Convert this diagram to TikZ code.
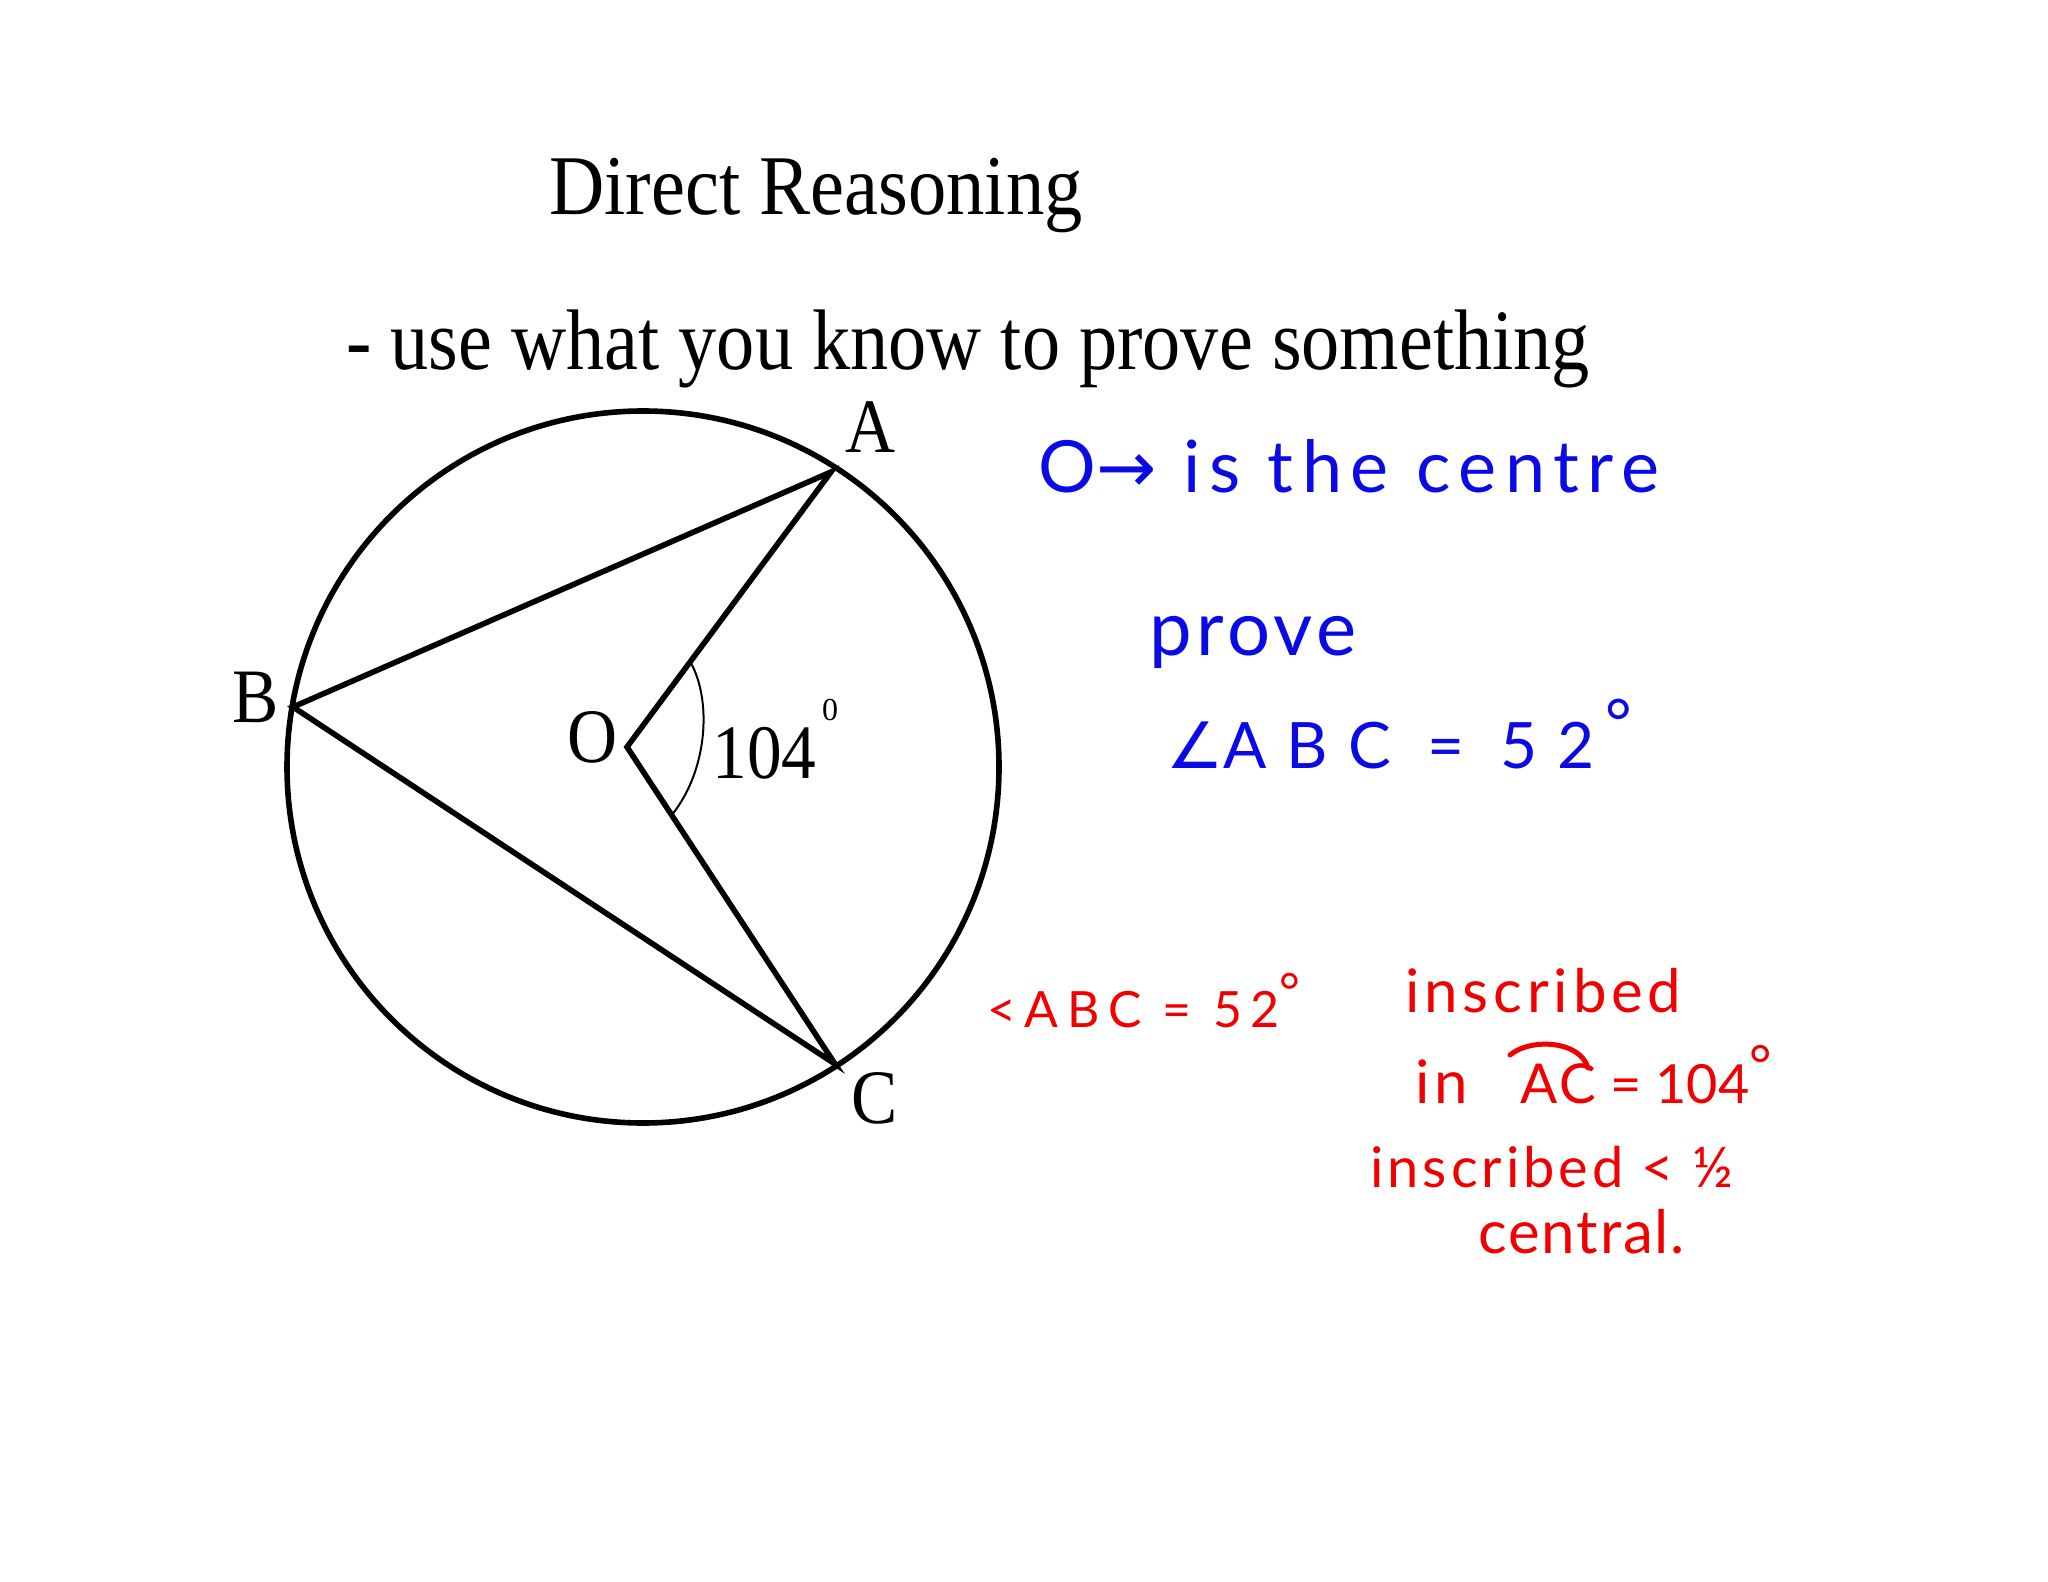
\documentclass[tikz,border=0pt]{standalone}
\usepackage{fontspec}
\setmainfont{Liberation Serif}
\newfontfamily\handfont{Lato}
\newfontfamily\symfont{DejaVu Sans}
\usetikzlibrary{calc}
\newcommand\handtext[2]{\handfont\fontsize{#1}{#1}\selectfont\addfontfeature{LetterSpace=#2}}
\newcommand\serifsize[1]{\fontsize{#1}{#1}\selectfont}
\newcommand\updeg{\raisebox{0.35em}{°}}
\begin{document}
\begin{tikzpicture}[x=0.5pt,y=-0.5pt,
  geo/.style={line width=2.8pt,black},
  lbl/.style={anchor=base,inner sep=0pt,text=black},
  bluepen/.style={anchor=base west,inner sep=0pt,text={rgb,255:red,10;green,10;blue,230}},
  redpen/.style={anchor=base west,inner sep=0pt,text={rgb,255:red,240;green,0;blue,0}},
]
\useasboundingbox (0,0) rectangle (2048,1582);
\fill[white] (0,0) rectangle (2048,1582);

% titles
\node[lbl] (title) at (816,215) {\scalebox{0.9}[1]{\serifsize{42.5}Direct Reasoning}};
\node[lbl] (subtitle) at (968,370) {\scalebox{0.887}[1]{\serifsize{43}- use what you know to prove something}};

% geometry
\coordinate (ctr) at (643,767);
\coordinate (O) at (627,747);
\coordinate (A) at (831,472);
\coordinate (B) at (293,707);
\coordinate (C) at (835,1064);
\draw[geo] (ctr) circle[radius=356];
\draw[geo] (B) -- (A) -- (O) -- (C) -- cycle;
\draw[line width=1pt] ($(O)!0.31!(A)$) .. controls (712,700) and (708,770) .. ($(O)!0.215!(C)$);

% labels
\node[lbl] (labA) at (871,453) {\scalebox{0.9}[1]{\serifsize{38.5}A}};
\node[lbl] (labB) at (256,722) {\scalebox{0.9}[1]{\serifsize{38.5}B}};
\node[lbl] (labC) at (875,1123) {\scalebox{0.9}[1]{\serifsize{38.5}C}};
\node[lbl] (labO) at (593,762) {\scalebox{0.9}[1]{\serifsize{38.5}O}};
\node[lbl,anchor=base west] (ang) at (712,778) {\scalebox{0.9}[1]{\serifsize{38.5}104}};
\node[lbl] (deg) at (830,720) {\serifsize{16}0};

% blue handwriting
\node[bluepen] (b1) at (1038,493) {\handtext{36}{12}O{\symfont→} is the centre};
\node[bluepen] (b2) at (1149,655) {\handtext{38}{6}prove};
\node[bluepen] (b3) at (1166,768) {\handtext{32}{31}{\symfont∠}ABC = 52\,\updeg};

% red handwriting
\node[redpen] (r1) at (987,1027) {\handtext{25}{17}<ABC = 52\updeg};
\node[redpen] (r2) at (1405,1012) {\handtext{30}{8}inscribed};
\node[redpen] (r3a) at (1415,1103) {\handtext{30}{8}in};
\node[redpen] (r3b) at (1520,1103) {\handtext{27.5}{6}AC};
\node[redpen] (r3c) at (1610,1103) {\handtext{27}{0}= 104\updeg};
\draw[line width=2.5pt,color={rgb,255:red,240;green,0;blue,0},line cap=round] (1510,1055) .. controls (1530,1038) and (1580,1040) .. (1588,1068);
\node[redpen] (r4) at (1370,1187) {\handtext{28}{7}inscribed < ½};
\node[redpen] (r5) at (1478,1253) {\handtext{30}{3}central.};
\end{tikzpicture}
\end{document}
